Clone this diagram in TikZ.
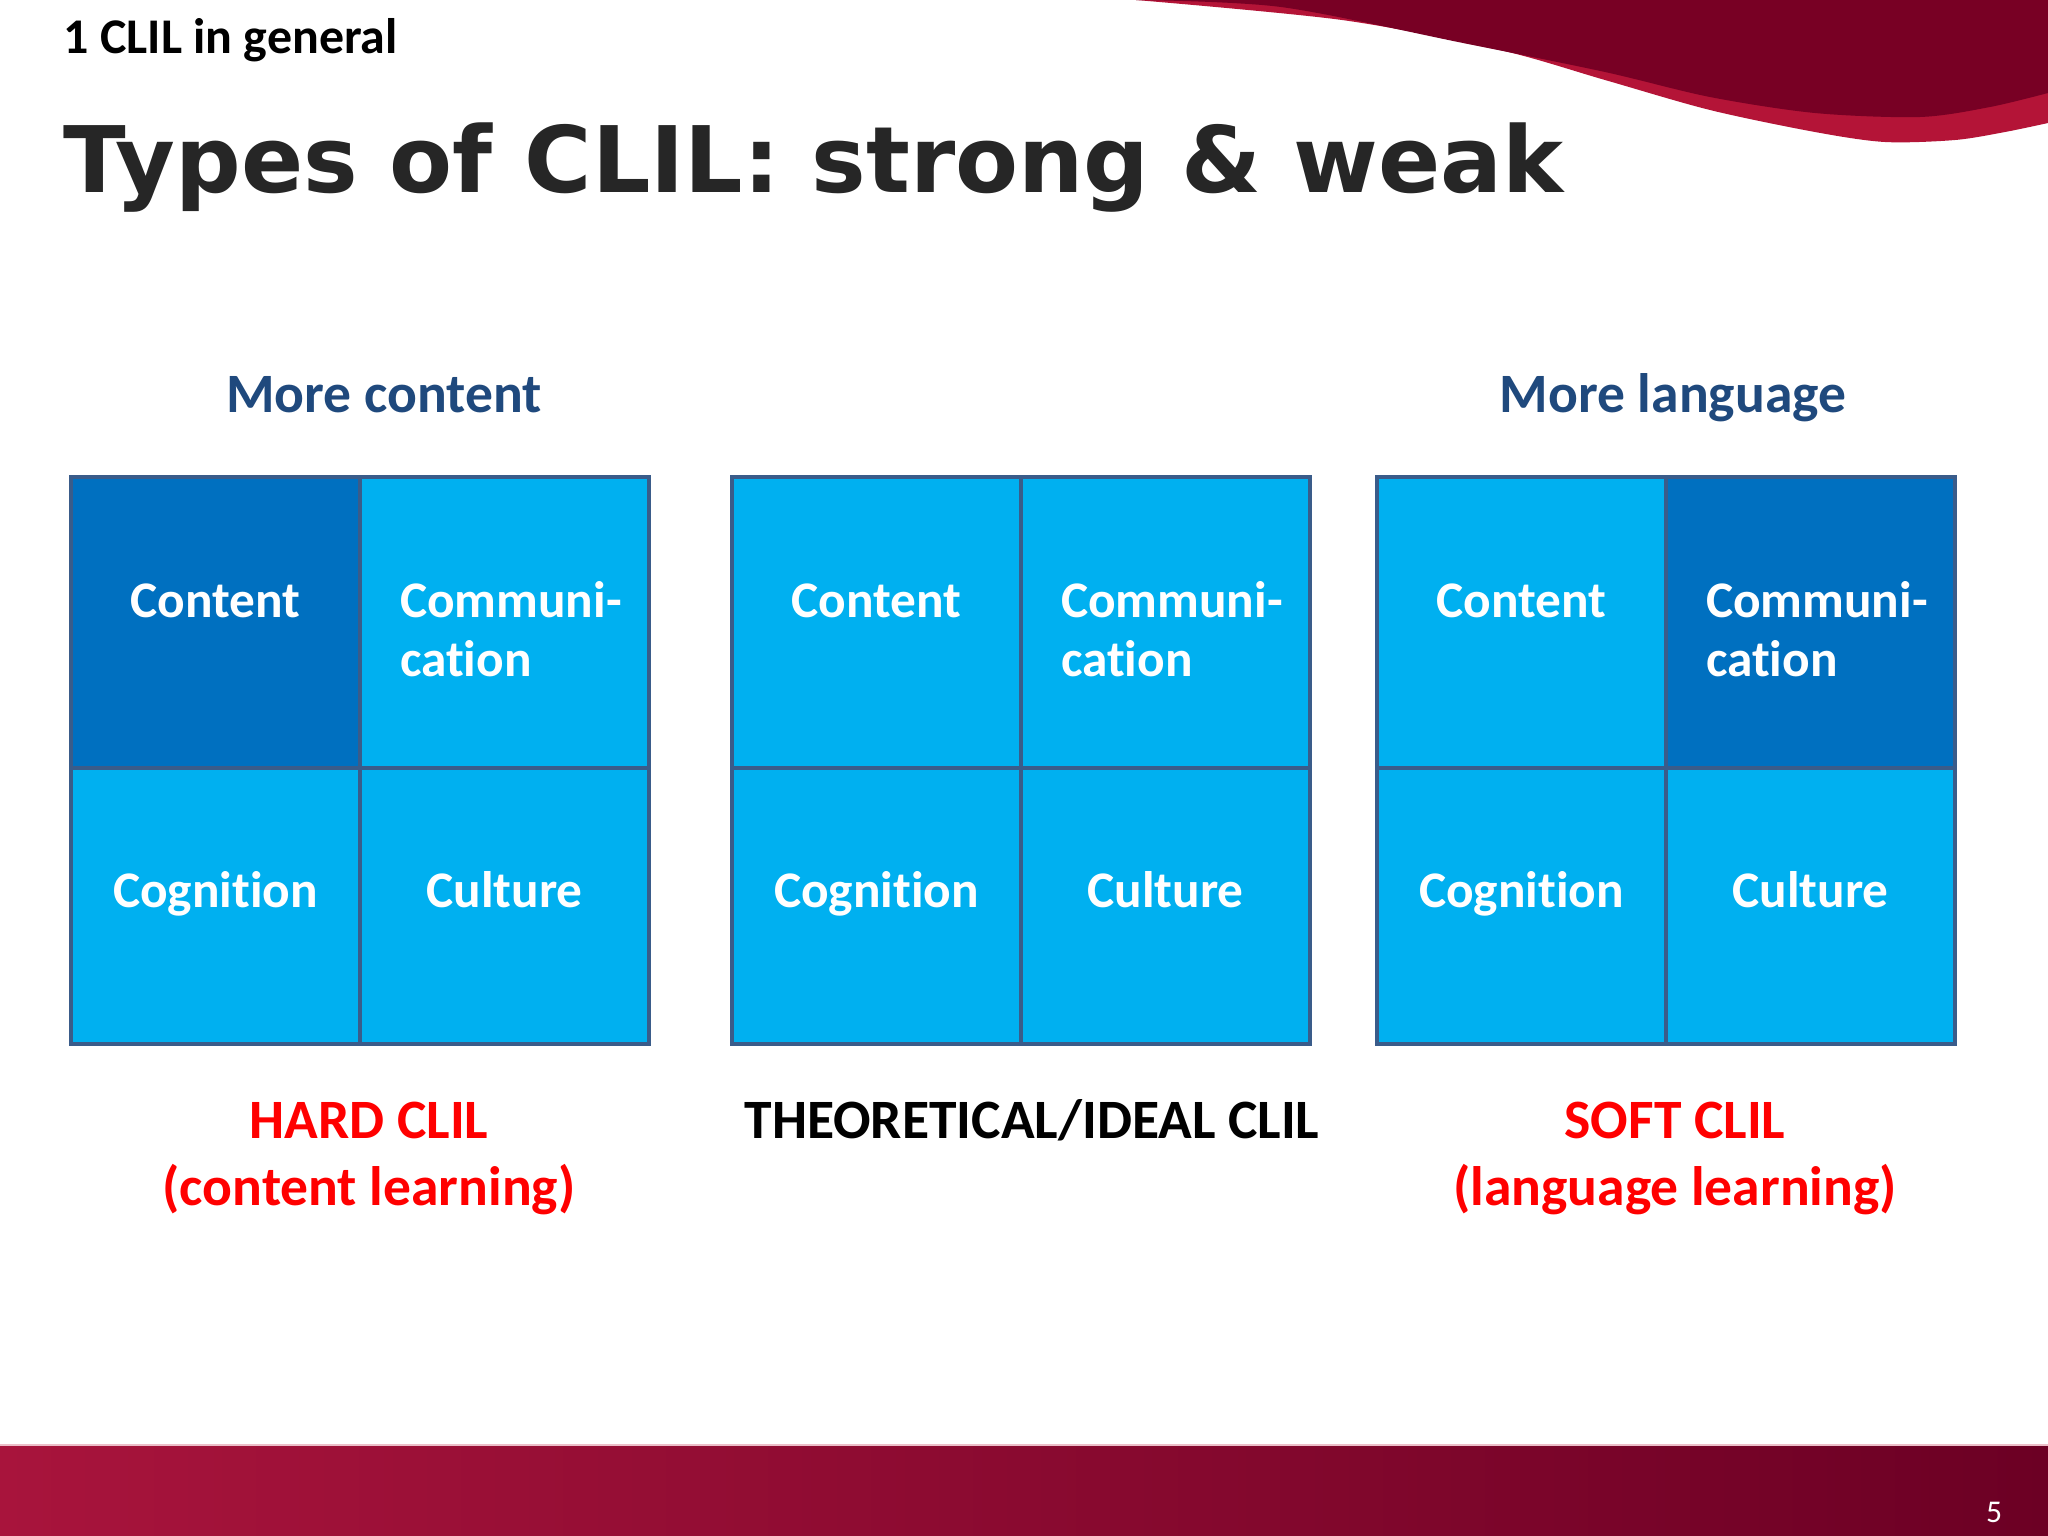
\documentclass[tikz,border=0pt]{standalone}
\usepackage{fontspec}
\setmainfont{Carlito}[Ligatures=NoCommon]
\newfontfamily\titlefont{DejaVu Sans}
\usepackage{tikz}
\definecolor{clight}{RGB}{0, 176, 240}
\definecolor{cdark}{RGB}{0, 112, 192}
\definecolor{cellline}{RGB}{58, 92, 138}
\definecolor{headblue}{RGB}{31, 73, 125}
\definecolor{titlegray}{RGB}{38, 38, 38}
\definecolor{swdark}{RGB}{120, 0, 36}
\definecolor{swred}{RGB}{180, 20, 55}
\definecolor{barleft}{RGB}{168, 20, 60}
\definecolor{barright}{RGB}{108, 0, 36}
\definecolor{barline}{RGB}{236, 190, 200}

\begin{document}
\begin{tikzpicture}[
    x=0.01cm, y=-0.01cm,
    cell/.style={draw=cellline, line width=0.045cm, fill=clight, anchor=north west, outer sep=0pt, inner xsep=0pt, inner ysep=0pt, text width=2.89cm, text=white, font=\bfseries\fontsize{14.6}{16.8}\selectfont},
    toprow/.style={text height=1.40cm, text depth=1.51cm},
    botrow/.style={text height=1.39cm, text depth=1.37cm},
    commcell/.style={inner xsep=0.4cm, text width=2.09cm, align=flush left},
    head/.style={anchor=base, text=headblue, font=\bfseries\fontsize{15.8}{16.8}\selectfont},
    kind/.style={anchor=base, text width=6cm, align=flush center, inner sep=0pt, font=\bfseries\fontsize{15.8}{19.3}\selectfont}
]
    \useasboundingbox[fill=white] (0,0) rectangle (2048,1536);

    \fill[swred] plot[smooth] coordinates {(1136,0) (1342,20) (1500,50) (1605,80) (1710,110) (1815,132) (1885,142) (1955,140) (2005,132) (2048,123)} -- (2048,0) -- cycle;
    \fill[swdark] plot[smooth] coordinates {(1136,0) (1281,7) (1463,43) (1605,72) (1710,97) (1815,113) (1920,117) (1990,107) (2048,93)} -- (2048,0) -- cycle;

    \node[anchor=base west, inner sep=0pt, font=\bfseries\fontsize{14.2}{16}\selectfont] (section) at (63,53) {1 CLIL in general};
    \node[anchor=base west, inner sep=0pt, text=titlegray, font=\titlefont\bfseries\fontsize{26.1}{30}\selectfont] (title) at (63,192) {Types of CLIL: strong \& weak};

    \node[head] (morecontent) at (384,412) {More content};
    \node[head] (morelanguage) at (1673,412) {More language};

    \foreach \gx/\gn/\fa/\fb in {71/hard/cdark/clight, 732/ideal/clight/clight, 1377/soft/clight/cdark}{
        \node[cell, toprow, align=flush center, fill=\fa] (\gn-con) at (\gx,477) {Content};
        \node[cell, toprow, commcell, fill=\fb] (\gn-com) at (\gx+289,477) {\mbox{Communi-}\\cation};
        \node[cell, botrow, align=flush center] (\gn-cog) at (\gx,768) {Cognition};
        \node[cell, botrow, align=flush center] (\gn-cul) at (\gx+289,768) {Culture};
    }

    \node[kind, text=red] (hardlbl) at (369,1138) {HARD CLIL\\(content learning)};
    \node[kind, text=black] (ideallbl) at (1032,1138) {THEORETICAL/IDEAL CLIL};
    \node[kind, text=red] (softlbl) at (1675,1138) {SOFT CLIL\\(language learning)};

    \fill[left color=barleft, right color=barright] (0,1446) rectangle (2048,1536);
    \draw[barline, line width=0.02cm] (0,1445) -- (2048,1445);
    \node[anchor=base, text=white, font=\fontsize{9}{10}\selectfont] (pagenum) at (1994,1522) {5};
\end{tikzpicture}
\end{document}
